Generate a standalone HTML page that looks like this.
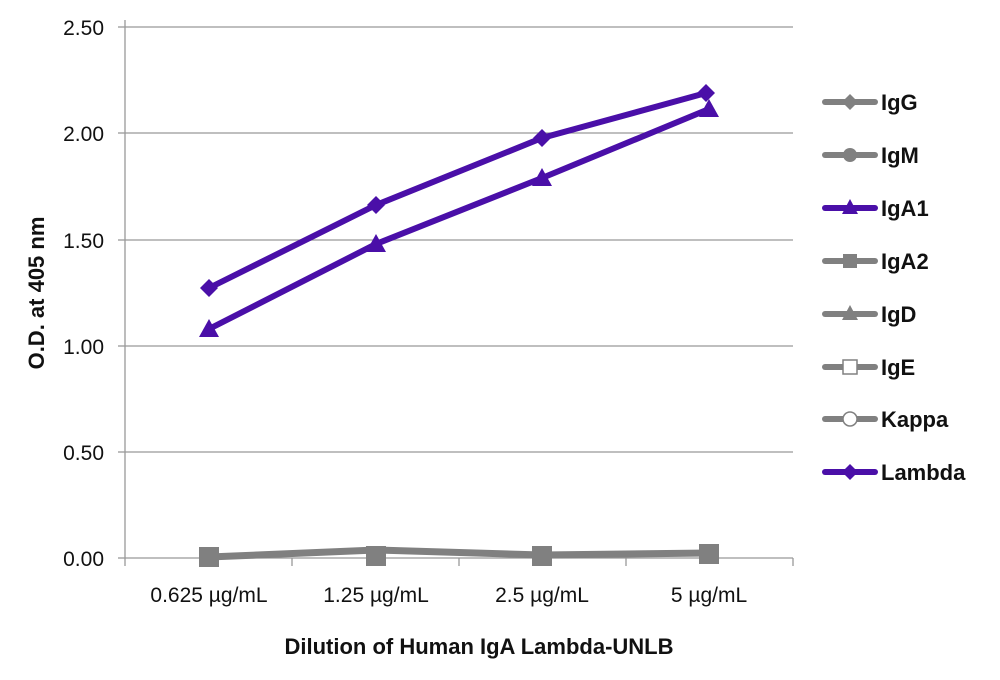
<!DOCTYPE html>
<html><head><meta charset="utf-8"><style>
body{margin:0;background:#fff;width:1000px;height:675px;overflow:hidden}
text{font-family:"Liberation Sans",sans-serif}
</style></head><body>
<svg width="1000" height="675" xmlns="http://www.w3.org/2000/svg">
<g stroke="#999" stroke-width="1.3">
<line x1="125" y1="27" x2="793" y2="27"/>
<line x1="125" y1="133" x2="793" y2="133"/>
<line x1="125" y1="240" x2="793" y2="240"/>
<line x1="125" y1="346" x2="793" y2="346"/>
<line x1="125" y1="452" x2="793" y2="452"/>
<line x1="125" y1="558" x2="793" y2="558"/>
<line x1="125" y1="20" x2="125" y2="558"/>
<line x1="118" y1="27" x2="125" y2="27"/><line x1="118" y1="133" x2="125" y2="133"/><line x1="118" y1="240" x2="125" y2="240"/><line x1="118" y1="346" x2="125" y2="346"/><line x1="118" y1="452" x2="125" y2="452"/><line x1="118" y1="558" x2="125" y2="558"/>
<line x1="125" y1="558" x2="125" y2="566"/><line x1="292" y1="558" x2="292" y2="566"/><line x1="459" y1="558" x2="459" y2="566"/><line x1="626" y1="558" x2="626" y2="566"/><line x1="793" y1="558" x2="793" y2="566"/>
</g>
<g font-size="21" text-anchor="end" fill="#111">
<text x="104" y="35">2.50</text><text x="104" y="141">2.00</text><text x="104" y="248">1.50</text><text x="104" y="354">1.00</text><text x="104" y="460">0.50</text><text x="104" y="566">0.00</text>
</g>
<g font-size="21" text-anchor="middle" fill="#111">
<text x="209" y="602">0.625 µg/mL</text><text x="376" y="602">1.25 µg/mL</text><text x="542" y="602">2.5 µg/mL</text><text x="709" y="602">5 µg/mL</text>
</g>
<text x="479" y="654" font-size="22" font-weight="bold" text-anchor="middle" fill="#111">Dilution of Human IgA Lambda-UNLB</text>
<text transform="translate(44,293) rotate(-90)" font-size="22" font-weight="bold" text-anchor="middle" fill="#111">O.D. at 405 nm</text>
<polyline points="209,557 376,550 542,555 709,553" fill="none" stroke="#808080" stroke-width="7"/>
<g fill="#808080">
<rect x="199" y="547" width="20" height="20"/><rect x="366" y="546" width="20" height="20"/><rect x="532" y="546" width="20" height="20"/><rect x="699" y="544" width="20" height="20"/>
</g>
<polyline points="209,329 376,244 542,178 709,109" fill="none" stroke="#4a0fa8" stroke-width="6"/>
<g fill="#4a0fa8">
<polygon points="209,319 219,337 199,337"/><polygon points="376,234 386,252 366,252"/><polygon points="542,168 552,186 532,186"/><polygon points="709,99 719,117 699,117"/>
</g>
<polyline points="209,288 376,205 542,138 706,93" fill="none" stroke="#4a0fa8" stroke-width="6"/>
<g fill="#4a0fa8">
<polygon points="209,279 218,288 209,297 200,288"/><polygon points="376,196 385,205 376,214 367,205"/><polygon points="542,129 551,138 542,147 533,138"/><polygon points="706,84 715,93 706,102 697,93"/>
</g>
<g stroke-width="6" stroke-linecap="round">
<line x1="825" y1="102" x2="875" y2="102" stroke="#808080"/>
<line x1="825" y1="155" x2="875" y2="155" stroke="#808080"/>
<line x1="825" y1="208" x2="875" y2="208" stroke="#4a0fa8"/>
<line x1="825" y1="261" x2="875" y2="261" stroke="#808080"/>
<line x1="825" y1="314" x2="875" y2="314" stroke="#808080"/>
<line x1="825" y1="367" x2="875" y2="367" stroke="#808080"/>
<line x1="825" y1="419" x2="875" y2="419" stroke="#808080"/>
<line x1="825" y1="472" x2="875" y2="472" stroke="#4a0fa8"/>
</g>
<polygon points="850,94 858,102 850,110 842,102" fill="#808080"/>
<circle cx="850" cy="155" r="7" fill="#808080"/>
<polygon points="850,199 858,214 842,214" fill="#4a0fa8"/>
<rect x="843" y="254" width="14" height="14" fill="#808080"/>
<polygon points="850,305 858,320 842,320" fill="#808080"/>
<rect x="843" y="360" width="14" height="14" fill="#fff" stroke="#808080" stroke-width="1.5"/>
<circle cx="850" cy="419" r="7" fill="#fff" stroke="#808080" stroke-width="1.5"/>
<polygon points="850,464 858,472 850,480 842,472" fill="#4a0fa8"/>
<g font-size="22" font-weight="bold" fill="#111">
<text x="881" y="110">IgG</text><text x="881" y="163">IgM</text><text x="881" y="216">IgA1</text><text x="881" y="269">IgA2</text><text x="881" y="322">IgD</text><text x="881" y="375">IgE</text><text x="881" y="427">Kappa</text><text x="881" y="480">Lambda</text>
</g>
</svg>
</body></html>
